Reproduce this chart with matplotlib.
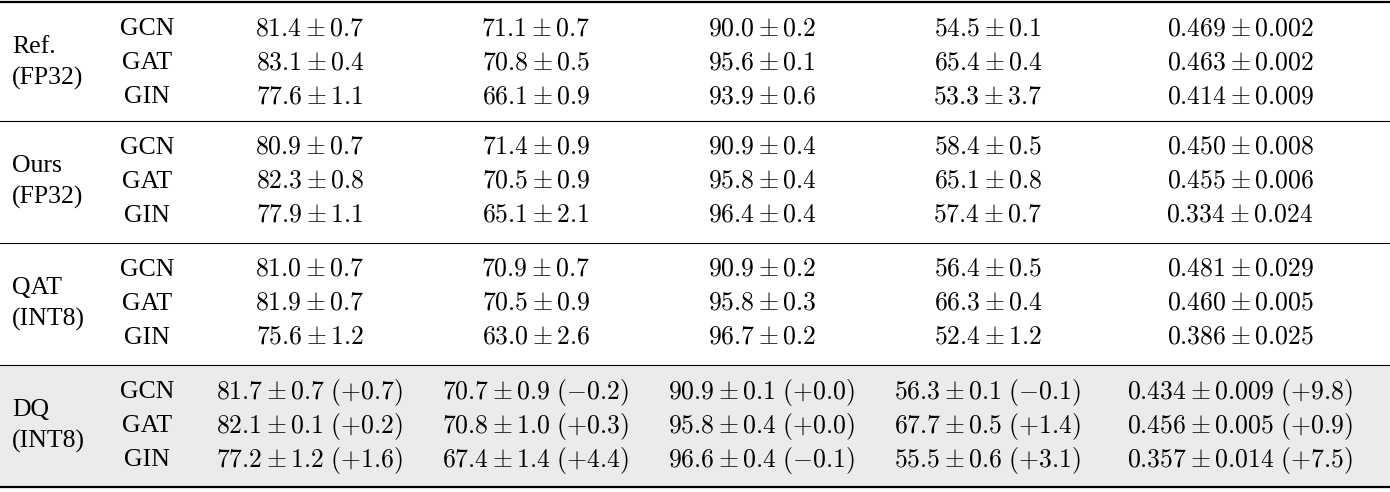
import matplotlib

matplotlib.use("Agg")
import matplotlib.pyplot as plt  # noqa: E402

plt.rcParams["mathtext.fontset"] = "cm"
plt.rcParams["font.family"] = ["Liberation Serif", "DejaVu Serif"]

groups = ["Ref.\n(FP32)", "Ours\n(FP32)", "QAT\n(INT8)", "DQ\n(INT8)"]
models = ["GCN", "GAT", "GIN"]

ref = [["81.4 \\pm 0.7", "71.1 \\pm 0.7", "90.0 \\pm 0.2", "54.5 \\pm 0.1", "0.469 \\pm 0.002"],
       ["83.1 \\pm 0.4", "70.8 \\pm 0.5", "95.6 \\pm 0.1", "65.4 \\pm 0.4", "0.463 \\pm 0.002"],
       ["77.6 \\pm 1.1", "66.1 \\pm 0.9", "93.9 \\pm 0.6", "53.3 \\pm 3.7", "0.414 \\pm 0.009"]]
ours = [["80.9 \\pm 0.7", "71.4 \\pm 0.9", "90.9 \\pm 0.4", "58.4 \\pm 0.5", "0.450 \\pm 0.008"],
        ["82.3 \\pm 0.8", "70.5 \\pm 0.9", "95.8 \\pm 0.4", "65.1 \\pm 0.8", "0.455 \\pm 0.006"],
        ["77.9 \\pm 1.1", "65.1 \\pm 2.1", "96.4 \\pm 0.4", "57.4 \\pm 0.7", "0.334 \\pm 0.024"]]
qat = [["81.0 \\pm 0.7", "70.9 \\pm 0.7", "90.9 \\pm 0.2", "56.4 \\pm 0.5", "0.481 \\pm 0.029"],
       ["81.9 \\pm 0.7", "70.5 \\pm 0.9", "95.8 \\pm 0.3", "66.3 \\pm 0.4", "0.460 \\pm 0.005"],
       ["75.6 \\pm 1.2", "63.0 \\pm 2.6", "96.7 \\pm 0.2", "52.4 \\pm 1.2", "0.386 \\pm 0.025"]]
dq = [["81.7 \\pm 0.7", "70.7 \\pm 0.9", "90.9 \\pm 0.1", "56.3 \\pm 0.1", "0.434 \\pm 0.009"],
      ["82.1 \\pm 0.1", "70.8 \\pm 1.0", "95.8 \\pm 0.4", "67.7 \\pm 0.5", "0.456 \\pm 0.005"],
      ["77.2 \\pm 1.2", "67.4 \\pm 1.4", "96.6 \\pm 0.4", "55.5 \\pm 0.6", "0.357 \\pm 0.014"]]
dq_delta = [["+0.7", "-0.2", "+0.0", "-0.1", "+9.8"],
            ["+0.2", "+0.3", "+0.0", "+1.4", "+0.9"],
            ["+1.6", "+4.4", "-0.1", "+3.1", "+7.5"]]

W, H = 1390, 492
fig = plt.figure(figsize=(W / 100, H / 100), dpi=100)
ax = fig.add_axes([0, 0, 1, 1])
ax.set_xlim(0, W)
ax.set_ylim(H, 0)
ax.axis("off")

col_x = [310, 536, 762, 988, 1240]
block_top = [2, 121, 243, 365]
row_off = [27, 61, 95]
fs = 18.5

ax.add_patch(plt.Rectangle((0, 365), W, 122, color="#ebebeb", zorder=0))
for y, lw in [(2, 1.6), (121, 0.8), (243, 0.8), (365, 0.8), (487, 1.6)]:
    ax.plot([0, W], [y, y], color="black", lw=lw)

for g, (name, data) in enumerate(zip(groups, [ref, ours, qat, dq])):
    top = block_top[g]
    ax.text(12, top + 61, name, fontsize=fs, ha="left", va="center", linespacing=1.5)
    for r, m in enumerate(models):
        y = top + row_off[r]
        ax.text(147, y, m, fontsize=fs, ha="center", va="center")
        for c, x in enumerate(col_x):
            s = f"${data[r][c]}$"
            if g == 3:
                d = dq_delta[r][c]
                s = (f"${data[r][c]}\\ (\\mathrm{{{d[0]}}}"
                     f"\\boldsymbol{{{d[1:]}}})$")
            ax.text(x, y, s, fontsize=fs, ha="center", va="center")

fig.savefig("out.png", dpi=100)
